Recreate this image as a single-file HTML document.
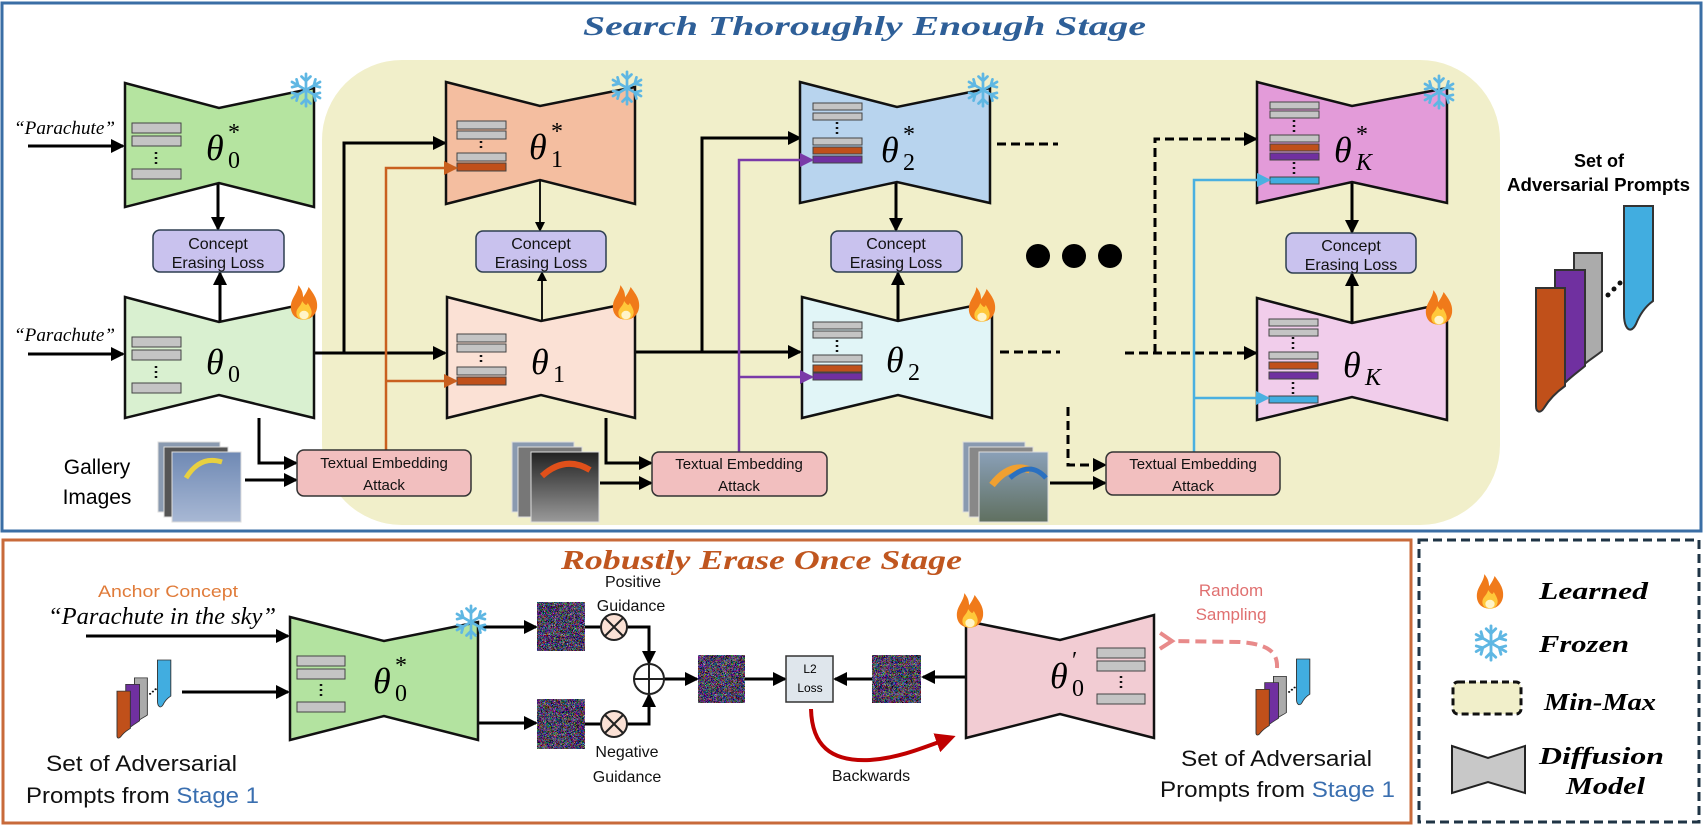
<!DOCTYPE html>
<html><head><meta charset="utf-8"><style>
html,body{margin:0;padding:0;background:#fff;}
svg{display:block;}
text{font-family:"Liberation Sans",sans-serif;}
.th{font-family:"Liberation Serif",serif;font-style:italic;font-size:36px;}
.sub{font-family:"Liberation Serif",serif;font-style:normal;font-size:24px;}
.lg{font-family:"Liberation Serif",serif;font-style:italic;font-weight:bold;font-size:24px;}
.ser{font-family:"Liberation Serif",serif;font-style:italic;}
.ttl{font-family:"Liberation Serif",serif;font-style:italic;font-weight:bold;font-size:27px;}
</style></head><body>
<svg width="1704" height="825" viewBox="0 0 1704 825" xmlns="http://www.w3.org/2000/svg">
<defs>
<marker id="ah" markerWidth="10" markerHeight="10" refX="8" refY="5" orient="auto" markerUnits="userSpaceOnUse" viewBox="0 0 10 10"><path d="M0,0 L10,5 L0,10Z" fill="#000"/></marker>
<marker id="ahb" markerWidth="14" markerHeight="14" refX="12" refY="7" orient="auto" markerUnits="userSpaceOnUse" viewBox="0 0 14 14"><path d="M0,0 L14,7 L0,14Z" fill="#000"/></marker>
<marker id="aho" markerWidth="14" markerHeight="14" refX="12" refY="7" orient="auto" markerUnits="userSpaceOnUse" viewBox="0 0 14 14"><path d="M0,0 L14,7 L0,14Z" fill="#c9601f"/></marker>
<marker id="ahp" markerWidth="14" markerHeight="14" refX="12" refY="7" orient="auto" markerUnits="userSpaceOnUse" viewBox="0 0 14 14"><path d="M0,0 L14,7 L0,14Z" fill="#7a3aa8"/></marker>
<marker id="ahc" markerWidth="14" markerHeight="14" refX="12" refY="7" orient="auto" markerUnits="userSpaceOnUse" viewBox="0 0 14 14"><path d="M0,0 L14,7 L0,14Z" fill="#4ab0e0"/></marker>
<marker id="ahr" markerWidth="20" markerHeight="20" refX="14" refY="10" orient="auto" markerUnits="userSpaceOnUse" viewBox="0 0 20 20"><path d="M0,0 L20,10 L0,20Z" fill="#c00000"/></marker>
<marker id="ahk" markerWidth="20" markerHeight="20" refX="6" refY="10" orient="auto" markerUnits="userSpaceOnUse" viewBox="0 0 20 20"><path d="M16,2 L4,10 L16,18" fill="none" stroke="#e88a8a" stroke-width="4"/></marker>
<filter id="noise" x="0" y="0" width="100%" height="100%">
<feTurbulence type="turbulence" baseFrequency="0.9" numOctaves="1" seed="3"/>
<feColorMatrix values="1.6 0 0 0 -0.15  0 1.4 0 0 -0.15  0 0 1.7 0 -0.1  0 0 0 0 1"/>
</filter>
<symbol id="fire" viewBox="0 0 30 40">
<path d="M15 40 C5 40 0 33 1 24 C2 16 8 12 9 3 C13 8 14 12 14 16 C17 12 19 8 20 5 C25 12 30 18 29 27 C28 35 22 40 15 40Z" fill="#f07a1a"/>
<path d="M15 40 C9 40 6 36 7 31 C8 27 12 25 13 20 C16 24 18 26 19 22 C22 27 24 31 23 34 C22 38 19 40 15 40Z" fill="#ffc83a"/>
<ellipse cx="15" cy="35" rx="5" ry="4.5" fill="#fff4c8"/>
</symbol>
<symbol id="snow" viewBox="-20 -20 40 40">
<g stroke="#5fb7e3" stroke-width="3" stroke-linecap="round" fill="none">
<g id="arm"><line x1="0" y1="-18" x2="0" y2="18"/><path d="M-5,-15 L0,-10 L5,-15 M-5,15 L0,10 L5,15"/></g>
<use href="#arm" transform="rotate(60)"/><use href="#arm" transform="rotate(120)"/>
</g>
</symbol>
<g id="prompts">
<path d="M38,47 H66 V145 C60,150 50,156 44,162 C40,166 37,162 38,156Z" fill="#ababab" stroke="#333" stroke-width="2"/>
<path d="M19,64 H49 V160 C42,166 33,172 26,180 C22,185 19,182 19,176Z" fill="#7030a0" stroke="#333" stroke-width="2"/>
<path d="M0,82 H29 V180 C22,185 14,192 8,202 C4,208 0,206 0,200Z" fill="#c0501a" stroke="#333" stroke-width="2"/>
<path d="M88,0 H117 V95 C110,100 104,108 100,118 C97,124 93,126 90,120 C88,116 88,112 88,108Z" fill="#41ade0" stroke="#333" stroke-width="2"/>
<circle cx="72" cy="89" r="2.5" fill="#111"/><circle cx="78" cy="83" r="2.5" fill="#111"/><circle cx="84" cy="77" r="2.5" fill="#111"/>
</g>
<linearGradient id="sky1" x1="0" y1="0" x2="0" y2="1"><stop offset="0" stop-color="#6f89b4"/><stop offset="1" stop-color="#a8b8d4"/></linearGradient>
<linearGradient id="sky2" x1="0" y1="0" x2="0" y2="1"><stop offset="0" stop-color="#222"/><stop offset="1" stop-color="#9a9a9a"/></linearGradient>
<linearGradient id="sky3" x1="0" y1="0" x2="0" y2="1"><stop offset="0" stop-color="#8aa0b8"/><stop offset="1" stop-color="#607060"/></linearGradient>
</defs>

<rect x="2" y="3" width="1699" height="528" fill="#fff" stroke="#3a6ea5" stroke-width="3"/>
<rect x="322" y="60" width="1178" height="465" rx="80" ry="80" fill="#f1efca"/>
<text x="583" y="35" class="ttl" fill="#2e5f98" textLength="563" lengthAdjust="spacingAndGlyphs">Search Thoroughly Enough Stage</text>

<text x="14" y="134" class="ser" font-size="19" textLength="101" lengthAdjust="spacingAndGlyphs">“Parachute”</text>
<line x1="28" y1="146" x2="123" y2="146" stroke="#000" stroke-width="3" marker-end="url(#ahb)"/>
<text x="14" y="341" class="ser" font-size="19" textLength="101" lengthAdjust="spacingAndGlyphs">“Parachute”</text>
<line x1="28" y1="354" x2="123" y2="354" stroke="#000" stroke-width="3" marker-end="url(#ahb)"/>

<g stroke="#000" stroke-width="3" fill="none">
<line x1="218" y1="183" x2="218" y2="229" marker-end="url(#ahb)"/>
<line x1="220" y1="322" x2="220" y2="273" marker-end="url(#ahb)"/>
<line x1="896" y1="182" x2="896" y2="230" marker-end="url(#ahb)"/>
<line x1="898" y1="321" x2="898" y2="273" marker-end="url(#ahb)"/>
<line x1="1352" y1="182" x2="1352" y2="232" marker-end="url(#ahb)"/>
<line x1="1352" y1="323" x2="1352" y2="274" marker-end="url(#ahb)"/>
<line x1="314" y1="353" x2="445" y2="353" marker-end="url(#ahb)"/>
<polyline points="344,353 344,143 445,143" marker-end="url(#ahb)"/>
<line x1="635" y1="352" x2="800" y2="352" marker-end="url(#ahb)"/>
<polyline points="702,352 702,138 800,138" marker-end="url(#ahb)"/>
<polyline points="259,418 259,463 296,463" marker-end="url(#ahb)"/>
<line x1="245" y1="480" x2="296" y2="480" marker-end="url(#ahb)"/>
<polyline points="606,418 606,463 651,463" marker-end="url(#ahb)"/>
<line x1="600" y1="483" x2="651" y2="483" marker-end="url(#ahb)"/>
<line x1="1050" y1="483" x2="1105" y2="483" marker-end="url(#ahb)"/>
</g>
<g stroke="#000" stroke-width="1.8" fill="none">
<line x1="540" y1="180" x2="540" y2="230" marker-end="url(#ah)"/>
<line x1="542" y1="321" x2="542" y2="273" marker-end="url(#ah)"/>
</g>
<g stroke="#000" stroke-width="3" fill="none" stroke-dasharray="9,5">
<line x1="997" y1="144" x2="1058" y2="144"/>
<line x1="1000" y1="352" x2="1060" y2="352"/>
<line x1="1125" y1="353" x2="1256" y2="353" marker-end="url(#ahb)"/>
<polyline points="1155,353 1155,139 1256,139" marker-end="url(#ahb)"/>
<polyline points="1068,407 1068,465 1105,465" marker-end="url(#ahb)"/>
</g>
<circle cx="1038" cy="256" r="12" fill="#000"/><circle cx="1074" cy="256" r="12" fill="#000"/><circle cx="1110" cy="256" r="12" fill="#000"/>

<g stroke="#111" stroke-width="2.5">
<polygon points="125,83 219,108 314,88 314,207 219,183 125,207" fill="#b5e4a0"/>
<polygon points="125,297 219,322 314,302 314,418 219,395 125,418" fill="#d9f0d0"/>
<polygon points="446,82 540,106 635,87 635,204 540,180 446,204" fill="#f4bea0"/>
<polygon points="447,297 541,321 635,302 635,418 541,395 447,418" fill="#fbe1d5"/>
<polygon points="800,82 897,107 990,88 990,203 897,182 800,203" fill="#b8d4ee"/>
<polygon points="802,297 898,321 992,302 992,418 898,395 802,418" fill="#e1f5f7"/>
<polygon points="1257,82 1352,106 1447,88 1447,203 1352,182 1257,203" fill="#e39bd9"/>
<polygon points="1257,298 1352,323 1447,303 1447,420 1352,397 1257,420" fill="#f1cdeb"/>
</g>
<g stroke="#444" stroke-width="1">
<rect x="132" y="123" width="49" height="10" fill="#c4c4c4"/><rect x="132" y="136" width="49" height="10" fill="#c4c4c4"/><rect x="132" y="169" width="49" height="10" fill="#c4c4c4"/>
<rect x="132" y="337" width="49" height="10" fill="#c4c4c4"/><rect x="132" y="350" width="49" height="10" fill="#c4c4c4"/><rect x="132" y="383" width="49" height="10" fill="#c4c4c4"/>
<rect x="457" y="121" width="49" height="8" fill="#c4c4c4"/><rect x="457" y="131" width="49" height="8" fill="#c4c4c4"/><rect x="457" y="153" width="49" height="8" fill="#c4c4c4"/><rect x="457" y="163" width="49" height="8" fill="#c0501a"/>
<rect x="457" y="334" width="49" height="8" fill="#c4c4c4"/><rect x="457" y="344" width="49" height="8" fill="#c4c4c4"/><rect x="457" y="367" width="49" height="8" fill="#c4c4c4"/><rect x="457" y="377" width="49" height="8" fill="#c0501a"/>
<rect x="813" y="103" width="49" height="7" fill="#c4c4c4"/><rect x="813" y="113" width="49" height="7" fill="#c4c4c4"/><rect x="813" y="138" width="49" height="7" fill="#c4c4c4"/><rect x="813" y="147" width="49" height="7" fill="#c0501a"/><rect x="813" y="156" width="49" height="7" fill="#7030a0"/>
<rect x="813" y="322" width="49" height="7" fill="#c4c4c4"/><rect x="813" y="331" width="49" height="7" fill="#c4c4c4"/><rect x="813" y="355" width="49" height="7" fill="#c4c4c4"/><rect x="813" y="365" width="49" height="7" fill="#c0501a"/><rect x="813" y="373" width="49" height="7" fill="#7030a0"/>
<rect x="1270" y="102" width="49" height="7" fill="#c4c4c4"/><rect x="1270" y="111" width="49" height="7" fill="#c4c4c4"/><rect x="1270" y="135" width="49" height="7" fill="#c4c4c4"/><rect x="1270" y="144" width="49" height="7" fill="#c0501a"/><rect x="1270" y="153" width="49" height="7" fill="#7030a0"/><rect x="1270" y="177" width="49" height="7" fill="#41ade0"/>
<rect x="1269" y="319" width="49" height="7" fill="#c4c4c4"/><rect x="1269" y="329" width="49" height="7" fill="#c4c4c4"/><rect x="1269" y="352" width="49" height="7" fill="#c4c4c4"/><rect x="1269" y="362" width="49" height="7" fill="#c0501a"/><rect x="1269" y="372" width="49" height="7" fill="#7030a0"/><rect x="1269" y="396" width="49" height="7" fill="#41ade0"/>
</g>
<g stroke="#111" stroke-width="2.5" stroke-dasharray="2,3">
<line x1="156" y1="152" x2="156" y2="165"/><line x1="156" y1="366" x2="156" y2="379"/>
<line x1="481" y1="141" x2="481" y2="151"/><line x1="481" y1="355" x2="481" y2="365"/>
<line x1="837" y1="122" x2="837" y2="135"/><line x1="837" y1="340" x2="837" y2="352"/>
<line x1="1294" y1="120" x2="1294" y2="132"/><line x1="1294" y1="162" x2="1294" y2="174"/>
<line x1="1293" y1="337" x2="1293" y2="349"/><line x1="1293" y1="382" x2="1293" y2="394"/>
</g>
<!-- colored connectors on top of models -->
<g stroke="#c9601f" stroke-width="2.5" fill="none">
<polyline points="386,450 386,168 456,168" marker-end="url(#aho)"/>
<line x1="386" y1="381" x2="456" y2="381" marker-end="url(#aho)"/>
</g>
<g stroke="#7a3aa8" stroke-width="2.5" fill="none">
<polyline points="739,452 739,160 812,160" marker-end="url(#ahp)"/>
<line x1="739" y1="377" x2="812" y2="377" marker-end="url(#ahp)"/>
</g>
<g stroke="#4ab0e0" stroke-width="2.5" fill="none">
<polyline points="1194,453 1194,180 1269,180" marker-end="url(#ahc)"/>
<line x1="1194" y1="398" x2="1268" y2="398" marker-end="url(#ahc)"/>
</g>

<text x="206" y="160" class="th">θ</text><text x="228" y="168" class="sub">0</text><text x="228" y="140" class="sub">*</text>
<text x="206" y="374" class="th">θ</text><text x="228" y="382" class="sub">0</text>
<text x="529" y="159" class="th">θ</text><text x="551" y="167" class="sub">1</text><text x="551" y="139" class="sub">*</text>
<text x="531" y="374" class="th">θ</text><text x="553" y="382" class="sub">1</text>
<text x="881" y="162" class="th">θ</text><text x="903" y="170" class="sub">2</text><text x="903" y="142" class="sub">*</text>
<text x="886" y="372" class="th">θ</text><text x="908" y="380" class="sub">2</text>
<text x="1334" y="162" class="th">θ</text><text x="1356" y="170" class="sub" style="font-style:italic">K</text><text x="1356" y="142" class="sub">*</text>
<text x="1343" y="377" class="th">θ</text><text x="1365" y="385" class="sub" style="font-style:italic">K</text>

<g fill="#c9c2ee" stroke="#2e3e50" stroke-width="1.5">
<rect x="153" y="230" width="131" height="42" rx="7"/><rect x="476" y="231" width="130" height="41" rx="7"/>
<rect x="831" y="231" width="131" height="41" rx="7"/><rect x="1286" y="233" width="130" height="40" rx="7"/>
</g>
<g font-size="16" text-anchor="middle" fill="#111">
<text x="218" y="249">Concept</text><text x="218" y="268">Erasing Loss</text>
<text x="541" y="249">Concept</text><text x="541" y="268">Erasing Loss</text>
<text x="896" y="249">Concept</text><text x="896" y="268">Erasing Loss</text>
<text x="1351" y="251">Concept</text><text x="1351" y="270">Erasing Loss</text>
</g>
<g fill="#f2bfbf" stroke="#333" stroke-width="1.5">
<rect x="297" y="450" width="174" height="46" rx="7"/><rect x="652" y="452" width="175" height="44" rx="7"/><rect x="1106" y="452" width="174" height="43" rx="7"/>
</g>
<g font-size="15" text-anchor="middle" fill="#111">
<text x="384" y="468">Textual Embedding</text><text x="384" y="490">Attack</text>
<text x="739" y="469">Textual Embedding</text><text x="739" y="491">Attack</text>
<text x="1193" y="469">Textual Embedding</text><text x="1193" y="491">Attack</text>
</g>
<text x="97" y="474" font-size="21" text-anchor="middle">Gallery</text>
<text x="97" y="504" font-size="21" text-anchor="middle">Images</text>
<g stroke="#ddd" stroke-width="1">
<rect x="158" y="442" width="62" height="70" fill="#8a9ab0"/><rect x="164" y="447" width="64" height="70" fill="#555"/><rect x="172" y="452" width="69" height="70" fill="url(#sky1)"/>
<rect x="512" y="442" width="62" height="70" fill="#8a9ab0"/><rect x="518" y="447" width="64" height="70" fill="#777"/><rect x="531" y="452" width="68" height="70" fill="url(#sky2)"/>
<rect x="963" y="442" width="62" height="70" fill="#8a9ab0"/><rect x="969" y="447" width="64" height="70" fill="#888"/><rect x="979" y="452" width="69" height="70" fill="url(#sky3)"/>
</g>
<path d="M186,478 Q200,455 222,462" stroke="#e8d040" stroke-width="5" fill="none"/>
<path d="M542,476 Q565,455 590,470" stroke="#e0501a" stroke-width="6" fill="none"/>
<path d="M992,485 Q1010,462 1030,470" stroke="#f0a030" stroke-width="7" fill="none"/><path d="M1010,478 Q1030,460 1046,478" stroke="#2a70c0" stroke-width="5" fill="none"/>

<use href="#snow" x="288" y="72" width="36" height="36"/>
<use href="#snow" x="609" y="70" width="36" height="36"/>
<use href="#snow" x="965" y="72" width="36" height="36"/>
<use href="#snow" x="1421" y="74" width="36" height="36"/>
<use href="#fire" x="290" y="281" width="28" height="40"/>
<use href="#fire" x="612" y="281" width="28" height="40"/>
<use href="#fire" x="968" y="283" width="28" height="40"/>
<use href="#fire" x="1425" y="286" width="28" height="40"/>

<text x="1599" y="167" font-size="18" font-weight="bold" text-anchor="middle">Set of</text>
<text x="1507" y="191" font-size="18" font-weight="bold" textLength="183" lengthAdjust="spacingAndGlyphs">Adversarial Prompts</text>
<use href="#prompts" transform="translate(1536,206)"/>

<rect x="3" y="540" width="1408" height="283" fill="#fff" stroke="#c86a3a" stroke-width="3"/>
<rect x="1419" y="540" width="280" height="282" fill="#fff" stroke="#1f3445" stroke-width="3" stroke-dasharray="9,5"/>
<text x="561" y="569" class="ttl" fill="#c0561f" textLength="401" lengthAdjust="spacingAndGlyphs">Robustly Erase Once Stage</text>

<text x="98" y="597" font-size="17" fill="#e07b39" textLength="140" lengthAdjust="spacingAndGlyphs">Anchor Concept</text>
<text x="48" y="624" class="ser" font-size="24" textLength="228" lengthAdjust="spacingAndGlyphs">“Parachute in the sky”</text>
<g stroke="#000" stroke-width="3" fill="none">
<line x1="86" y1="636" x2="288" y2="636" marker-end="url(#ahb)"/>
<line x1="182" y1="692" x2="288" y2="692" marker-end="url(#ahb)"/>
<line x1="478" y1="627" x2="536" y2="627" marker-end="url(#ahb)"/>
<line x1="478" y1="723" x2="536" y2="723" marker-end="url(#ahb)"/>
<polyline points="585,627 627,627 649,627 649,663" marker-end="url(#ahb)"/>
<polyline points="585,724 649,724 649,695" marker-end="url(#ahb)"/>
<line x1="664" y1="679" x2="697" y2="679" marker-end="url(#ahb)"/>
<line x1="745" y1="679" x2="785" y2="679" marker-end="url(#ahb)"/>
<line x1="872" y1="679" x2="835" y2="679" marker-end="url(#ahb)"/>
<line x1="966" y1="677" x2="923" y2="677" marker-end="url(#ahb)"/>
</g>
<use href="#prompts" transform="translate(117,660) scale(0.46,0.38)"/>
<use href="#prompts" transform="translate(1256,659) scale(0.46,0.37)"/>

<polygon points="290,617 384,641 478,622 478,740 384,716 290,740" fill="#b3e3a0" stroke="#111" stroke-width="2.5"/>
<polygon points="966,621 1060,640 1154,615 1154,738 1060,714 966,738" fill="#f2ccd3" stroke="#111" stroke-width="2.5"/>
<g stroke="#444" stroke-width="1" fill="#c4c4c4">
<rect x="297" y="656" width="48" height="10"/><rect x="297" y="669" width="48" height="10"/><rect x="297" y="702" width="48" height="10"/>
<rect x="1097" y="648" width="48" height="10"/><rect x="1097" y="661" width="48" height="10"/><rect x="1097" y="694" width="48" height="10"/>
</g>
<g stroke="#111" stroke-width="2.5" stroke-dasharray="2,3">
<line x1="321" y1="684" x2="321" y2="698"/><line x1="1121" y1="676" x2="1121" y2="690"/>
</g>
<text x="373" y="693" class="th">θ</text><text x="395" y="701" class="sub">0</text><text x="395" y="673" class="sub">*</text>
<text x="1050" y="688" class="th">θ</text><text x="1072" y="696" class="sub">0</text><text x="1072" y="668" class="sub">′</text>
<use href="#snow" x="453" y="604" width="36" height="36"/>
<use href="#fire" x="956" y="589" width="28" height="40"/>

<rect x="537" y="602" width="48" height="49" filter="url(#noise)"/>
<rect x="537" y="699" width="48" height="50" filter="url(#noise)"/>
<rect x="698" y="655" width="47" height="48" filter="url(#noise)"/>
<rect x="872" y="655" width="49" height="48" filter="url(#noise)"/>
<g stroke="#222" stroke-width="2" fill="#fbe1d5">
<circle cx="614" cy="627" r="13"/><circle cx="614" cy="724" r="13"/>
<circle cx="649" cy="679" r="15" fill="#fff"/>
</g>
<g stroke="#222" stroke-width="2">
<line x1="605" y1="618" x2="623" y2="636"/><line x1="623" y1="618" x2="605" y2="636"/>
<line x1="605" y1="715" x2="623" y2="733"/><line x1="623" y1="715" x2="605" y2="733"/>
<line x1="634" y1="679" x2="664" y2="679"/><line x1="649" y1="664" x2="649" y2="694"/>
</g>
<g font-size="16" text-anchor="middle" fill="#111">
<text x="633" y="587">Positive</text><text x="631" y="611">Guidance</text>
<text x="627" y="757">Negative</text><text x="627" y="782">Guidance</text>
<text x="871" y="781">Backwards</text>
</g>
<rect x="786" y="656" width="47" height="46" fill="#dfe6ec" stroke="#333" stroke-width="1.5"/>
<text x="810" y="673" font-size="12" text-anchor="middle">L2</text><text x="810" y="692" font-size="12" text-anchor="middle">Loss</text>
<path d="M811,709 C812,745 830,762 870,760 C900,758 925,747 950,738" stroke="#c00000" stroke-width="4" fill="none" marker-end="url(#ahr)"/>
<path d="M1277,668 C1278,650 1265,644 1240,642 L1170,641" stroke="#e88a8a" stroke-width="4" fill="none" stroke-dasharray="11,6" marker-end="url(#ahk)"/>
<g font-size="17" text-anchor="middle" fill="#e07070">
<text x="1231" y="596">Random</text><text x="1231" y="620">Sampling</text>
</g>
<g font-size="22" fill="#111">
<text x="46" y="771" textLength="191" lengthAdjust="spacingAndGlyphs">Set of Adversarial</text>
<text x="26" y="803" textLength="233" lengthAdjust="spacingAndGlyphs">Prompts from <tspan fill="#3a6fb0">Stage 1</tspan></text>
<text x="1181" y="766" textLength="191" lengthAdjust="spacingAndGlyphs">Set of Adversarial</text>
<text x="1160" y="797" textLength="235" lengthAdjust="spacingAndGlyphs">Prompts from <tspan fill="#3a6fb0">Stage 1</tspan></text>
</g>

<use href="#fire" x="1476" y="569" width="28" height="42"/>
<use href="#snow" x="1472" y="624" width="38" height="38"/>
<rect x="1453" y="682" width="68" height="32" rx="5" fill="#f1efca" stroke="#111" stroke-width="3" stroke-dasharray="7,4"/>
<polygon points="1452,746 1488,758 1525,746 1525,793 1488,782 1452,793" fill="#c8c8c8" stroke="#222" stroke-width="2"/>
<text x="1539" y="599" class="lg" textLength="109" lengthAdjust="spacingAndGlyphs">Learned</text>
<text x="1539" y="652" class="lg" textLength="90" lengthAdjust="spacingAndGlyphs">Frozen</text>
<text x="1544" y="710" class="lg" textLength="112" lengthAdjust="spacingAndGlyphs">Min-Max</text>
<text x="1539" y="764" class="lg" textLength="125" lengthAdjust="spacingAndGlyphs">Diffusion</text>
<text x="1566" y="794" class="lg" textLength="79" lengthAdjust="spacingAndGlyphs">Model</text>
</svg>
</body></html>
